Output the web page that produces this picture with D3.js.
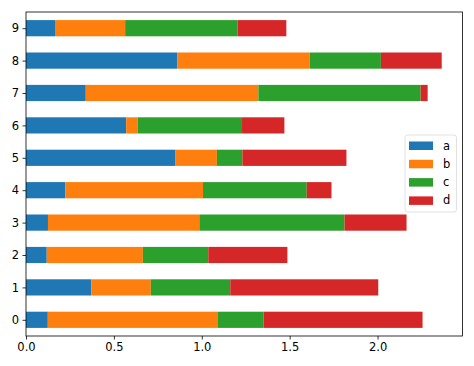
<!DOCTYPE html>
<html>
<head>
<meta charset="utf-8">
<script src="https://cdn.jsdelivr.net/npm/d3@7"></script>
<style>
  body { margin: 0; background: #fff; }
  text { font-family: "DejaVu Sans", sans-serif; }
</style>
</head>
<body>
<div id="chart"></div>
<script>
// row labels (bottom to top)
var rows = [0, 1, 2, 3, 4, 5, 6, 7, 8, 9];
var seriesNames = ["a", "b", "c", "d"];
var colors = ["#1f77b4", "#ff7f0e", "#2ca02c", "#d62728"];

var a = [0.124, 0.372, 0.118, 0.125, 0.224, 0.851, 0.570, 0.340, 0.860, 0.165];
var b = [0.968, 0.338, 0.547, 0.861, 0.783, 0.235, 0.066, 0.982, 0.754, 0.399];
var c = [0.260, 0.452, 0.372, 0.826, 0.590, 0.145, 0.593, 0.923, 0.405, 0.640];
var d = [0.904, 0.842, 0.450, 0.353, 0.141, 0.592, 0.241, 0.040, 0.346, 0.277];

var xTicks = [0, 0.5, 1.0, 1.5, 2.0];

var width = 474, height = 366;
var margin = {left: 26, right: 11.5, top: 12, bottom: 30};

var svg = d3.select("#chart").append("svg")
  .attr("width", width)
  .attr("height", height);

var table = rows.map(function(r, i) {
  return {row: r, a: a[i], b: b[i], c: c[i], d: d[i]};
});
var stacked = d3.stack().keys(seriesNames)(table);
var maxTotal = d3.max(table, function(t) { return t.a + t.b + t.c + t.d; });

var x = d3.scaleLinear()
  .domain([0, maxTotal * 1.05])
  .range([margin.left, width - margin.right]);

// categorical axis: -0.5 .. 9.5, bars take half the slot
var y = d3.scaleLinear()
  .domain([-0.5, rows.length - 0.5])
  .range([height - margin.bottom, margin.top]);
var barH = Math.abs(y(0.25) - y(-0.25));

svg.selectAll("g.series")
  .data(stacked)
  .enter().append("g")
  .attr("class", "series")
  .attr("fill", function(s, i) { return colors[i]; })
  .selectAll("rect")
  .data(function(s) { return s; })
  .enter().append("rect")
  .attr("x", function(p) { return x(p[0]); })
  .attr("width", function(p) { return x(p[1]) - x(p[0]); })
  .attr("y", function(p) { return y(p.data.row) - barH / 2; })
  .attr("height", barH);

// axes
var xAxis = svg.append("g")
  .attr("transform", "translate(0," + (height - margin.bottom) + ")")
  .call(d3.axisBottom(x).tickValues(xTicks).tickFormat(d3.format(".1f")).tickSizeOuter(0).tickSize(3.5).tickPadding(3.5));
var yAxis = svg.append("g")
  .attr("transform", "translate(" + margin.left + ",0)")
  .call(d3.axisLeft(y).tickValues(rows).tickFormat(d3.format("d")).tickSizeOuter(0).tickSize(3.5).tickPadding(3.5));

[xAxis, yAxis].forEach(function(g) {
  g.select(".domain").remove();
  g.selectAll("text").attr("font-size", 11.5).attr("fill", "#000").style("font-family", "DejaVu Sans");
  g.selectAll("line").attr("stroke", "#000").attr("stroke-width", 0.8);
});

// frame
svg.append("rect")
  .attr("x", margin.left)
  .attr("y", margin.top)
  .attr("width", width - margin.right - margin.left)
  .attr("height", height - margin.bottom - margin.top)
  .attr("fill", "none")
  .attr("stroke", "#000")
  .attr("stroke-width", 0.8);

// legend
var legend = svg.append("g").attr("transform", "translate(405,135)");
legend.append("rect")
  .attr("width", 51.5).attr("height", 77)
  .attr("rx", 2.5)
  .attr("fill", "#fff").attr("fill-opacity", 0.8)
  .attr("stroke", "#d9d9d9").attr("stroke-width", 0.8);
seriesNames.forEach(function(name, i) {
  var ly = 10.5 + i * 18.3;
  legend.append("rect")
    .attr("x", 4).attr("y", ly - 4)
    .attr("width", 24).attr("height", 8.5)
    .attr("fill", colors[i]);
  legend.append("text")
    .attr("x", 38).attr("y", ly)
    .attr("dy", "0.35em")
    .attr("font-size", 11.5)
    .text(name);
});
</script>
</body>
</html>
